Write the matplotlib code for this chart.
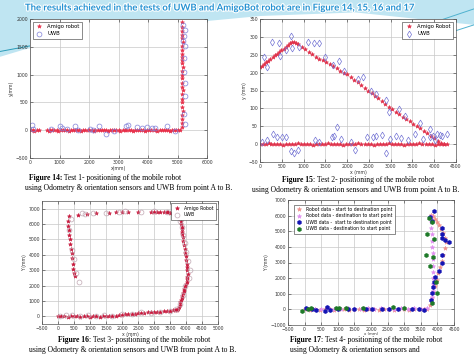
import matplotlib
matplotlib.use("Agg")
import matplotlib.pyplot as plt
import matplotlib.patheffects as pe
from matplotlib.patches import Polygon

# ---- Figure 14: test 1 ----
robot14_x = [20, 90, 150, 230, 290, 560, 630, 690, 750, 830, 900, 960, 1040, 1110, 1170, 1250,
             1320, 1380, 1460, 1530, 1590, 1670, 1740, 1800, 1880, 1950, 2010, 2090, 2160, 2220,
             2300, 2370, 2430, 2510, 2580, 2640, 2720, 2790, 2850, 2930, 3000, 3060, 3140, 3210,
             3270, 3350, 3420, 3480, 3560, 3630, 3690, 3770, 3840, 3900, 3980, 4050, 4110, 4190,
             4260, 4320, 4400, 4470, 4530, 4610, 4680, 4740, 4820, 4890, 4950, 5030, 5100,
             5150, 5160, 5140, 5150, 5170, 5150, 5140, 5160, 5150, 5170, 5140, 5150, 5160,
             5150, 5140, 5170, 5150, 5160, 5140, 5150, 5160, 5150, 5170, 5150, 5140, 5160,
             5150, 5160]
robot14_y = [-5, 0, -10, 5, -5, 0, -10, 0, 5, -5, 0, -10, 0, 5, -5, 0, -10, 0, 5, 0, -5, 0,
             -10, 5, 0, -5, 0, 5, -10, 0, -5, 0, 5, -5, 0, -10, 0, 5, -5, 0, 0, -10, 5, 0,
             -5, 0, 5, -10, 0, -5, 0, 5, 0, -10, 0, 5, -5, 0, 0, -10, 5, 0, -5, 0, 5, -10,
             0, -5, 0, 5, 0,
             60, 130, 200, 270, 340, 420, 500, 570, 650, 720, 780, 850, 930, 1000, 1070,
             1140, 1200, 1260, 1310, 1370, 1440, 1510, 1580, 1650, 1720, 1790, 1860, 1940]
uwb14_x = [57, 90, 700, 1000, 1100, 1250, 1530, 1620, 2020, 2150, 2330, 2560, 2840, 3270, 3330,
           3640, 3800, 3980, 4150, 4240, 4660, 4910, 5260, 5230, 5250, 5270, 5230, 5210, 5260,
           5220, 5240, 5200, 5180]
uwb14_y = [89, 30, 20, 71, 42, 30, 71, 10, 30, 10, 71, -71, -12, 77, 89, 60, 48, 60, 48, 42,
           71, -12, 120, 300, 620, 850, 1050, 1300, 1520, 1700, 1800, 1900, 1600]

# ---- Figure 15: test 2 ----
robot15_x = [0, 40, 90, 140, 190, 240, 290, 340, 390, 440, 490, 540, 590, 640, 690, 740, 780,
             830, 880, 960, 1040, 1120, 1200, 1280, 1360, 1440, 1520, 1600, 1680, 1760, 1840,
             1920, 2000, 2080, 2160, 2240, 2320, 2400, 2480, 2560, 2640, 2720, 2800, 2880, 2960,
             3040, 3120, 3200, 3280, 3360, 3440, 3520, 3600, 3680, 3760, 3840, 3920, 4000, 4080,
             4160, 4220,
             0, 60, 130, 200, 260, 330, 400, 470, 530, 600, 670, 740, 800, 870, 940, 1010, 1080,
             1150, 1220, 1290, 1350, 1420, 1490, 1560, 1630, 1700, 1770, 1840, 1910, 1980, 2050,
             2120, 2190, 2260, 2330, 2400, 2470, 2540, 2610, 2680, 2750, 2820, 2890, 2960, 3030,
             3100, 3170, 3240, 3310, 3380, 3450, 3520, 3590, 3660, 3730, 3800, 3870, 3940, 4010,
             4080, 4150, 4220, 4290]
robot15_y = [215, 219, 224, 229, 233, 238, 243, 248, 253, 258, 262, 267, 272, 277, 282, 287, 286,
             282, 279, 272, 266, 259, 252, 245, 239, 235, 231, 224, 218, 212, 205, 200, 195, 188,
             180, 173, 166, 158, 150, 142, 135, 128, 121, 113, 105, 98, 91, 84, 77, 70, 64, 57,
             50, 44, 37, 30, 23, 17, 10, 3, 0,
             1, -1, 0, 2, 0, -1, 1, 0, -2, 0, 1, -1, 0, 2, 0, -1, 1, 0, -2, 0, 1, -1, 0, 2, 0,
             -1, 1, 0, -2, 0, 1, -1, 0, 2, 0, -1, 1, 0, -2, 0, 1, -1, 0, 2, 0, -1, 1, 0, -2, 0,
             1, -1, 0, 2, 0, -1, 1, 0, -2, 0, 1, -1, 0]
uwb15_x = [92, 154, 285, 438, 462, 592, 708, 730, 900, 1108, 1246, 1346, 1492, 1669, 1823, 1938,
           2246, 2362, 2554, 2654, 2900, 2954, 3192, 3323, 3669, 3900, 3962, 4054, 4169,
           54, 170, 308, 400, 515, 592, 708, 785, 862, 1262, 1362, 1646, 1708, 1769, 1862, 2092,
           2185, 2462, 2592, 2669, 2800, 2900, 2977, 3131, 3246, 3400, 3554, 3746, 3900, 4015,
           4131, 4300]
uwb15_y = [243, 217, 287, 284, 247, 263, 303, 268, 271, 285, 282, 282, 245, 221, 233, 205,
           182, 187, 150, 140, 124, 89, 99, 80, 59, 43, 24, 28, 24,
           7, 12, 29, 21, 19, 21, -18, -25, -16, 12, 7, 20, 23, 47, 14, 5,
           -16, 21, 20, 23, 26, -25, 14, 23, 17, 12, 27, 14, 21, 12, 26, 28]

# ---- Figure 16: test 3 ----
robot16_x = [0, 100, 200, 300, 400, 500, 600, 700, 800, 900, 1000, 1100, 1200, 1300, 1400, 1500,
             1600, 1700, 1800, 1900, 2000, 2100, 2200, 2300, 2400, 2500, 2600, 2700, 2800, 2900,
             3000, 3100, 3200, 3300, 3400, 3500, 3600, 3650, 3700, 3730, 3760, 3780, 3800, 3820,
             3840, 3860, 3880, 3900, 3930, 3950, 3980, 4000, 4020, 4030, 4040, 4050, 4040, 4030,
             4020, 4000, 3990, 3980, 3960, 3940, 3920, 3900, 3890, 3880, 3870, 3860, 3850, 3830,
             3800, 3760, 3700, 3650, 3600, 3550, 3500, 3450, 3400, 3300, 3200, 3100, 3000, 2900,
             2500, 2200, 2000, 1800, 1600, 1200, 900, 620, 350, 320, 310, 330, 350, 370, 390,
             410, 430, 440, 460, 470, 490, 520]
robot16_y = [0, -10, 0, -20, 0, -10, 0, -20, -10, 0, -30, 0, -10, -20, 0, -10, 10, 30, 50, 70,
             100, 120, 150, 160, 180, 200, 220, 230, 250, 270, 280, 300, 310, 330, 350, 360,
             380, 390, 400, 420, 450, 600, 750, 900, 1050, 1200, 1350, 1500, 1650, 1800, 1950,
             2100, 2250, 2400, 2550, 2750, 3000, 3200, 3400, 3650, 3900, 4150, 4400, 4650,
             4900, 5150, 5350, 5500, 5650, 5800, 6000, 6200, 6400, 6550, 6650, 6700, 6720,
             6740, 6750, 6760, 6770, 6770, 6780, 6780, 6790, 6790, 6800, 6810, 6780, 6760,
             6740, 6700, 6680, 6620, 6550, 6200, 5900, 5600, 5300, 5000, 4700, 4400, 4100,
             3800, 3400, 3100, 2800, 2600]
uwb16_x = [50, 250, 450, 700, 950, 1200, 1450, 1700, 2000, 2300, 2600, 2900, 3200, 3500, 3700,
           3820, 3900, 3980, 4080, 4120, 4060, 4010, 3960, 3920, 3880, 3820, 3700, 3400, 3000,
           2600, 2100, 1900, 1500, 1100, 850, 750, 400, 350, 450, 500, 560, 650]
uwb16_y = [50, 80, 60, 20, 90, 40, 60, 30, 120, 150, 250, 240, 300, 350, 450, 800, 1400, 2000,
           2500, 3000, 3600, 4200, 4800, 5300, 5800, 6200, 6700, 6800, 6830, 6760, 6850, 6800,
           6720, 6700, 6680, 6700, 6300, 5600, 4300, 3700, 2800, 2250]

# ---- Figure 17: test 4 ----
rob_sd_x = [0, 150, 300, 450, 600, 750, 900, 1050, 1200, 1350, 1500, 1650, 1800, 1950, 2100,
            2250, 2400, 2550, 2700, 2850, 3000, 3150, 3300, 3450, 3600, 3700, 3780, 3830, 3880,
            3930, 3980, 4030, 4080, 4130, 4180, 4230, 4270, 4220, 4160, 4100, 4040, 3980, 3920,
            3860, 3820]
rob_sd_y = [0, -20, 10, -10, 0, 20, -10, 0, 10, -20, 0, 10, -10, 0, 20, -10, 0, 10, -20, 0, 10,
            -10, 0, 20, 0, 50, 300, 700, 1100, 1500, 1900, 2300, 2700, 3100, 3500, 3900, 4300,
            4600, 4900, 5150, 5400, 5600, 5800, 5950, 6050]
rob_ds_x = [3800, 3810, 3820, 3830, 3840, 3850, 3860, 3860, 3870, 3870, 3880, 3870, 3860, 3850,
            3840, 3700, 3500, 3300, 3100, 2900, 2700, 2500, 2300, 2100, 1900, 1700, 1500, 1300,
            1100, 900, 700, 500, 300, 100]
rob_ds_y = [6000, 5600, 5200, 4800, 4400, 4000, 3600, 3200, 2800, 2400, 2000, 1600, 1200, 800,
            400, 60, 40, 80, 30, 60, 20, 50, 70, 30, 60, 40, 20, 70, 50, 30, 60, 20, 50, 40]
uwb_sd_x = [50, 220, 350, 600, 670, 770, 1020, 1300, 1500, 1840, 2020, 2320, 2540, 2820, 3220,
            3440, 3600, 3820, 3840, 3870, 3900, 3920, 4040, 4150, 4150, 4130, 4150, 4150, 4230,
            4350, 3900, 3780, 3830]
uwb_sd_y = [106, 21, -43, -85, 170, -43, 21, 21, 21, 0, 21, 0, 21, 0, 21, 21, -43, 600, 1020,
            1450, 1770, 2090, 2470, 2940, 3510, 5220, 4810, 4540, 4470, 4330, 6290, 5930, 5650]
uwb_ds_x = [-70, 200, 100, 950, 1050, 1250, 1750, 2650, 3000, 3850, 3950, 3980, 3870, 3770,
            3650, 3700, 3900, 3850, 3750]
uwb_ds_y = [-100, 60, 20, 100, 60, 60, 100, 170, 100, 390, 1770, 1020, 3370, 2770, 3470, 4800,
            4480, 5610, 5860]

W, H = 474, 355
plt.rcParams['font.family'] = 'DejaVu Sans'
fig = plt.figure(figsize=(W / 100, H / 100), dpi=100)
fig.patch.set_facecolor('white')

# light blue slide decoration behind the title (kept under the axes)
wave = Polygon([(0, 1), (1, 1), (1, 0.93), (0.75, 0.965), (0.55, 0.955), (0.35, 0.93),
                (0.15, 0.89), (0.05, 0.86), (0, 0.84)], closed=True,
               transform=fig.transFigure, facecolor='#bfe5f2', edgecolor='none', zorder=-5)
fig.patches.append(wave)
for xs, ys, c in [([0, 0.06, 0.2], [0.855, 0.87, 0.9], '#2a9bb8'),
                  ([0.82, 0.9, 1.0], [0.9, 0.93, 0.975], '#4fb2cf'),
                  ([0.84, 0.93, 1.0], [0.87, 0.9, 0.93], '#4fb2cf')]:
    fig.lines.append(plt.Line2D(xs, ys, transform=fig.transFigure, color=c, lw=0.7,
                                zorder=-4))


def box(l, t, r, b):
    return [l / W, 1 - b / H, (r - l) / W, (b - t) / H]


def style(ax, xlim, xticks, ylim, yticks, xlabel, ylabel, xpad=1):
    ax.set_xlim(xlim)
    ax.set_ylim(ylim)
    ax.set_xticks(xticks)
    ax.set_yticks(yticks)
    ax.grid(True, color='#c8c8c8', lw=0.5)
    ax.set_axisbelow(True)
    ax.tick_params(direction='in', top=True, right=True, labelsize=3.3, length=2,
                   width=0.4, pad=1.5, colors='#333333')
    for s in ax.spines.values():
        s.set_linewidth(0.5)
        s.set_color('#555555')
    ax.set_xlabel(xlabel, fontsize=3.3, labelpad=xpad, color='#333333')
    ax.set_ylabel(ylabel, fontsize=3.3, labelpad=1, color='#333333')


def legend(ax, **kw):
    leg = ax.legend(frameon=True, fancybox=False, edgecolor='#333333', framealpha=1,
                    borderpad=0.5, handlelength=1.5, **kw)
    leg.get_frame().set_linewidth(0.4)


ax14 = fig.add_axes(box(30, 19, 207, 158))
ax14.plot(robot14_x, robot14_y, '*', color='#e8304a', ms=3, mew=0.4, label='Amigo robot')
ax14.plot(uwb14_x, uwb14_y, 'o', mfc='none', mec='#8080d8', ms=3.5, mew=0.5, label='UWB')
style(ax14, (0, 6000), range(0, 6001, 1000), (-500, 2000), range(-500, 2001, 500),
      'x(mm)', 'y(mm)')
legend(ax14, loc='upper left', fontsize=3.8, labelspacing=0.4)

ax15 = fig.add_axes(box(260, 19, 456, 162))
ax15.plot(robot15_x, robot15_y, '*', color='#e0304a', ms=3, mew=0.4, label='Amigo Robot')
ax15.plot(uwb15_x, uwb15_y, 'd', mfc='none', mec='#7474d4', ms=3.5, mew=0.5, label='UWB')
style(ax15, (0, 4500), range(0, 4501, 500), (-50, 350), range(-50, 351, 50),
      'x (mm)', 'y (mm)')
legend(ax15, loc='upper right', fontsize=3.8, labelspacing=0.4)

ax16 = fig.add_axes(box(42, 201, 218, 324))
ax16.plot(robot16_x, robot16_y, '*', color='#c8183c', ms=3, mew=0.4, label='Amigo Robot')
ax16.plot(uwb16_x, uwb16_y, 'o', mfc='none', mec='#c0a8b4', ms=3.5, mew=0.5, label='UWB')
style(ax16, (-500, 5000), range(-500, 5001, 500), (-500, 7500), range(0, 7001, 1000),
      'x (mm)', 'Y (mm)', xpad=0.5)
legend(ax16, loc='upper right', fontsize=3.3, labelspacing=0.4)

ax17 = fig.add_axes(box(288, 200, 454, 325))
ax17.plot(rob_sd_x, rob_sd_y, '*', color='#f0908c', ms=3.2, mew=0.4,
          label='Robot data - start to destination point')
ax17.plot(rob_ds_x, rob_ds_y, '*', color='#e08ef0', ms=3.2, mew=0.4,
          label='Robot data - destination to start point')
ax17.plot(uwb_sd_x, uwb_sd_y, 'h', color='#1414b4', ms=3.2, mew=0.3,
          label='UWB data -  start to destination point')
ax17.plot(uwb_ds_x, uwb_ds_y, 'h', color='#1e7a28', ms=3.2, mew=0.3,
          label='UWB data - destination to start point')
style(ax17, (-500, 4500), range(-500, 4501, 500), (-1000, 7000), range(-1000, 7001, 1000),
      'x (mm)', 'Y (mm)', xpad=0)
ax17.xaxis.label.set_fontsize(2.8)
legend(ax17, loc='upper left', fontsize=3.3, labelspacing=0.3, bbox_to_anchor=(0.02, 0.98))

# slide title
fig.text(25 / W, 1 - 8 / H, 'The results achieved in the tests of UWB and AmigoBot robot are in '
         'Figure 14, 15, 16 and 17', fontsize=6.8, fontweight='bold', family='Lato',
         color='#2592d2', va='center', ha='left',
         path_effects=[pe.withStroke(linewidth=1.6, foreground='white')])


def caption(x, y, bold, rest, x2, y2, line2):
    t = fig.text(x / W, 1 - y / H, bold, fontsize=5.5, fontweight='bold',
                 family='Liberation Serif', va='baseline')
    fig.text(0, 0, '')
    ax14.annotate(rest, xy=(1, 0), xycoords=t, fontsize=5.5, family='Liberation Serif',
                  va='bottom', annotation_clip=False)
    fig.text(x2 / W, 1 - y2 / H, line2, fontsize=5.5, family='Liberation Serif',
             va='baseline')


caption(29, 180, 'Figure 14:', ' Test 1- positioning of the mobile robot',
        25, 190, 'using Odometry & orientation sensors and UWB from point A to B.')
caption(282, 182, 'Figure 15', ': Test 2- positioning of the mobile robot',
        252, 192, 'using Odometry & orientation sensors and UWB from point A to B.')
caption(58, 342, 'Figure 16', ': Test 3- positioning of the mobile robot',
        29, 352, 'using Odometry & orientation sensors and UWB from point A to B.')
caption(290, 342, 'Figure 17', ': Test 4- positioning of the mobile robot',
        290, 352, 'using Odometry & orientation sensors and')

fig.savefig('out.png', dpi=100)
